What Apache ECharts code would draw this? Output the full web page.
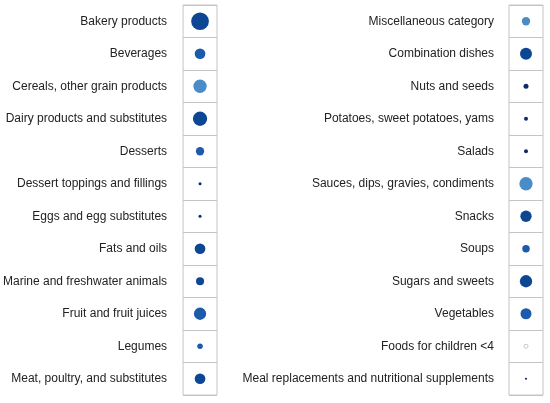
<!DOCTYPE html>
<html>
<head>
<meta charset="utf-8">
<script src="https://cdn.jsdelivr.net/npm/echarts@6/dist/echarts.min.js"></script>
<style>html,body{margin:0;padding:0;background:#fff;}#c{width:550px;height:403px;}</style>
</head>
<body>
<div id="c"></div>
<script>
// Data
var leftCategories = ["Bakery products","Beverages","Cereals, other grain products","Dairy products and substitutes","Desserts","Dessert toppings and fillings","Eggs and egg substitutes","Fats and oils","Marine and freshwater animals","Fruit and fruit juices","Legumes","Meat, poultry, and substitutes"];
var leftValues = [17.7, 10.7, 13.3, 14.3, 8.3, 3, 3, 10.7, 8, 12.3, 5.5, 10.7];
var leftShade = [3, 2, 1, 3, 2, 4, 4, 3, 3, 2, 2, 3];

var rightCategories = ["Miscellaneous category","Combination dishes","Nuts and seeds","Potatoes, sweet potatoes, yams","Salads","Sauces, dips, gravies, condiments","Snacks","Soups","Sugars and sweets","Vegetables","Foods for children <4","Meal replacements and nutritional supplements"];
var rightValues = [8.3, 12, 5, 4, 4, 13.3, 11.3, 7.5, 12.3, 11, 4, 2.2];
var rightShade = [1, 3, 4, 4, 4, 1, 3, 2, 3, 2, 0, 4];

var palette = ["#ffffff", "#4a8cc8", "#1c5aab", "#0d4794", "#0c2c68"];

function buildData(vals, shades) {
  return vals.map(function (v, i) {
    var s = shades[i];
    return {
      value: [0.5, i],
      symbolSize: v,
      itemStyle: s === 0
        ? { color: "#ffffff", borderColor: "#c8c8c8", borderWidth: 1, opacity: 1 }
        : { color: palette[s], opacity: 1 }
    };
  });
}

function yAx(cats, gi, margin) {
  return {
    type: "category", gridIndex: gi, data: cats, inverse: true,
    axisLine: { show: false }, axisTick: { show: false },
    splitLine: { show: true, lineStyle: { color: "#c4c4c4", width: 1 } },
    axisLabel: { margin: margin, color: "#222", fontSize: 12, fontFamily: "Liberation Sans, Arial, sans-serif" }
  };
}
function xAx(gi) {
  return { type: "value", gridIndex: gi, min: 0, max: 1, show: false };
}

var chart = echarts.init(document.getElementById("c"), null, { renderer: "canvas" });
chart.setOption({
  animation: false,
  backgroundColor: "#fff",
  grid: [
    { left: 183, width: 34, top: 5, height: 390, show: true, borderColor: "#c4c4c4", borderWidth: 1, containLabel: false },
    { left: 509, width: 34, top: 5, height: 390, show: true, borderColor: "#c4c4c4", borderWidth: 1, containLabel: false }
  ],
  xAxis: [xAx(0), xAx(1)],
  yAxis: [yAx(leftCategories, 0, 16), yAx(rightCategories, 1, 15)],
  series: [
    { type: "scatter", xAxisIndex: 0, yAxisIndex: 0, itemStyle: { opacity: 1 }, data: buildData(leftValues, leftShade) },
    { type: "scatter", xAxisIndex: 1, yAxisIndex: 1, itemStyle: { opacity: 1 }, data: buildData(rightValues, rightShade) }
  ]
});
</script>
</body>
</html>
